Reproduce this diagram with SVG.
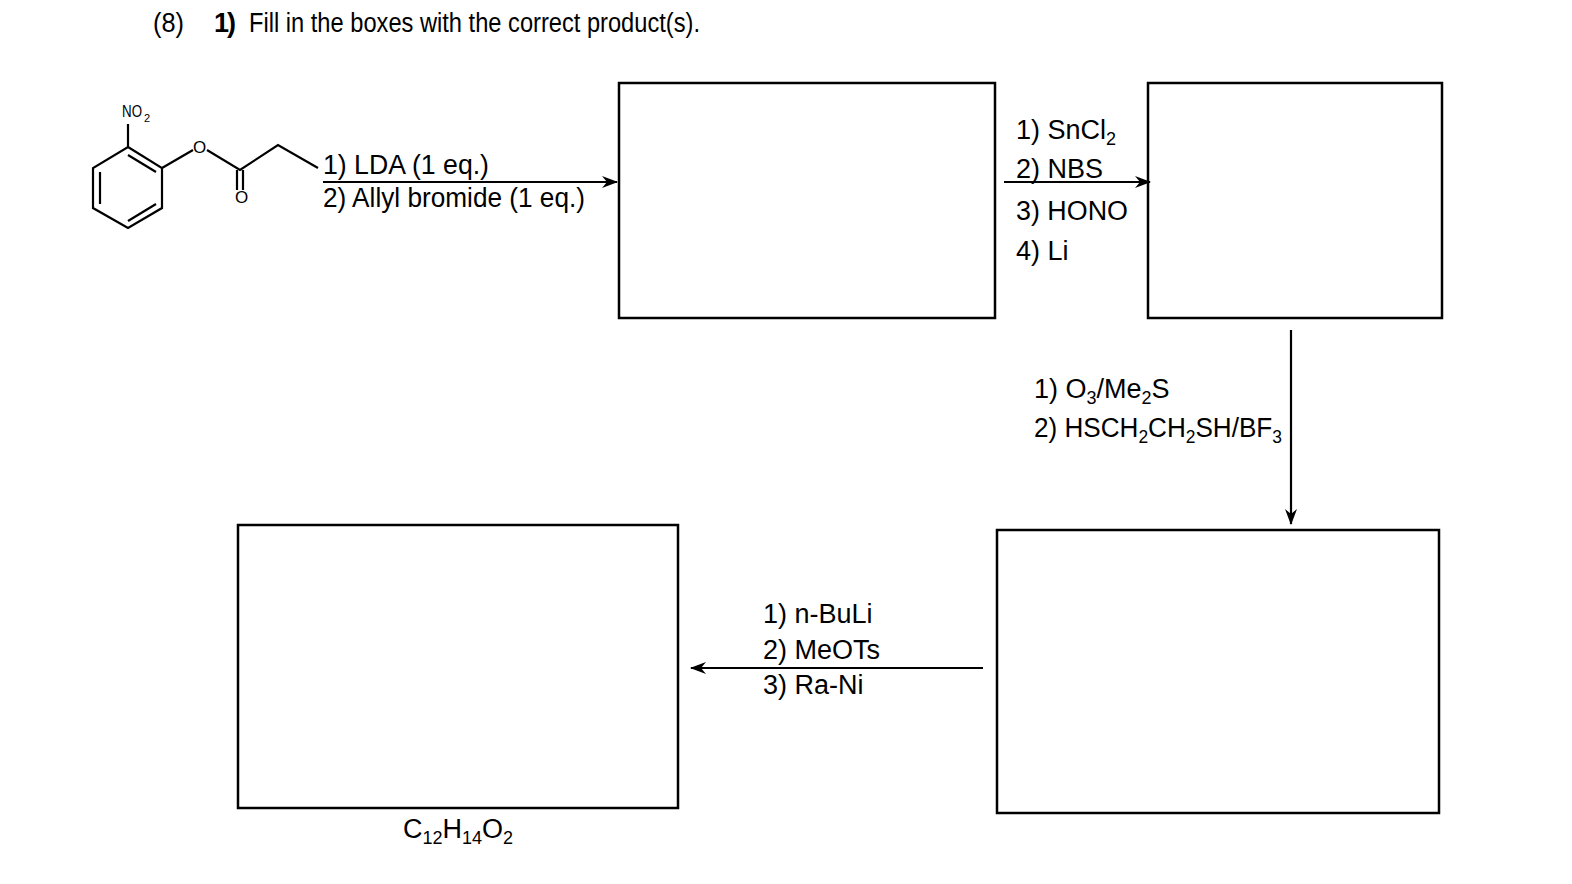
<svg xmlns="http://www.w3.org/2000/svg" width="1572" height="884" viewBox="0 0 1572 884">
<style>
text{font-family:"Liberation Sans",Arial,sans-serif;fill:#000}
.t{font-size:27px}
.b{fill:none;stroke:#000;stroke-width:2.5}
.l{stroke:#000;stroke-width:2.2;fill:none}
.s{font-size:17px}
</style>
<defs><marker id="a" markerWidth="16" markerHeight="12" refX="15" refY="6" orient="auto" markerUnits="userSpaceOnUse"><path d="M0,0L16,6L0,12L5,6Z"/></marker></defs>
<text x="153" y="32" class="t" textLength="31" lengthAdjust="spacingAndGlyphs">(8)</text>
<text x="214" y="32" class="t" font-weight="bold" textLength="22">1)</text>
<text x="249" y="32" class="t" textLength="451" lengthAdjust="spacingAndGlyphs">Fill in the boxes with the correct product(s).</text>
<g id="sm">
<path class="l" d="M128,147L162,168L162,208L128,228L93,208L93,168Z M128,155L156,172 M156,204L128,221 M100,204L100,172 M128,147V124 M162,168L193,150 M207,150L240,170L278,145L318,168 M237,170V190 M243,170V190"/>
<text x="122" y="117" class="s" textLength="20" lengthAdjust="spacingAndGlyphs">NO</text>
<text x="144" y="122" font-size="11">2</text>
<text x="193" y="153" class="s">O</text>
<text x="235" y="203" class="s">O</text>
</g>
<g id="boxes">
<rect id="b1" class="b" x="619" y="83" width="376" height="235"/>
<rect id="b2" class="b" x="1148" y="83" width="294" height="235"/>
<rect id="b3" class="b" x="997" y="530" width="442" height="283"/>
<rect id="b4" class="b" x="238" y="525" width="440" height="283"/>
</g>
<g id="connectors">
<line class="l" x1="323" y1="182" x2="617" y2="182" marker-end="url(#a)"/>
<line class="l" x1="1004" y1="182" x2="1150" y2="182" marker-end="url(#a)"/>
<line class="l" x1="1291" y1="330" x2="1291" y2="524" marker-end="url(#a)"/>
<line class="l" x1="983" y1="668" x2="691" y2="668" marker-end="url(#a)"/>
</g>
<g id="labels" class="t">
<text x="323" y="174" textLength="166" lengthAdjust="spacingAndGlyphs">1)  LDA (1 eq.)</text>
<text x="323" y="207" textLength="262" lengthAdjust="spacingAndGlyphs">2)  Allyl bromide (1 eq.)</text>
<text x="1016" y="139">1)  SnCl<tspan font-size="18" dy="6">2</tspan></text>
<text x="1016" y="178">2)  NBS</text>
<text x="1016" y="220" textLength="112" lengthAdjust="spacingAndGlyphs">3)  HONO</text>
<text x="1016" y="260">4)  Li</text>
<text x="1034" y="398">1)  O<tspan font-size="18" dy="6">3</tspan><tspan dy="-6">/Me</tspan><tspan font-size="18" dy="6">2</tspan><tspan dy="-6">S</tspan></text>
<text x="1034" y="437" textLength="248" lengthAdjust="spacingAndGlyphs">2)  HSCH<tspan font-size="18" dy="6">2</tspan><tspan dy="-6">CH</tspan><tspan font-size="18" dy="6">2</tspan><tspan dy="-6">SH/BF</tspan><tspan font-size="18" dy="6">3</tspan></text>
<text x="763" y="623">1)  n-BuLi</text>
<text x="763" y="659">2)  MeOTs</text>
<text x="763" y="694">3)  Ra-Ni</text>
<text x="403" y="838">C<tspan font-size="18" dy="6">12</tspan><tspan dy="-6">H</tspan><tspan font-size="18" dy="6">14</tspan><tspan dy="-6">O</tspan><tspan font-size="18" dy="6">2</tspan></text>
</g>
</svg>
